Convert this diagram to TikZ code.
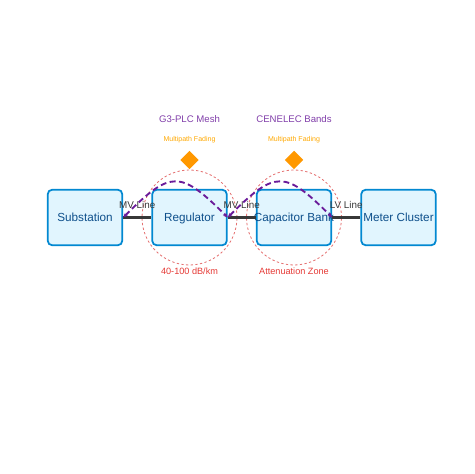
\documentclass[tikz,border=0pt]{standalone}
\usepackage{fontspec}
\setmainfont{Liberation Sans}
\usetikzlibrary{positioning,shapes.geometric,arrows.meta}

\definecolor{boxblue}{HTML}{0288D1}
\definecolor{boxfill}{HTML}{E1F5FE}
\definecolor{boxtext}{HTML}{0D4F8B}
\definecolor{wiregray}{HTML}{383838}
\definecolor{plcpurple}{HTML}{6A1B9A}
\definecolor{zonered}{HTML}{E57373}
\definecolor{zonetext}{HTML}{E53935}
\definecolor{fadeorange}{HTML}{FF9800}

\begin{document}
\begin{tikzpicture}[x=0.03cm,y=0.03cm,node distance=3.135cm,
    asset/.style={rectangle,rounded corners=4pt,draw=boxblue,line width=1.5pt,
      fill=boxfill,text=boxtext,font=\fontsize{10}{12}\selectfont,
      minimum width=2.24cm,minimum height=1.67cm,inner xsep=0pt,text depth=0pt},
    wire/.style={draw=wiregray,line width=2.8pt},
    wirelabel/.style={text=wiregray,font=\fontsize{8.4}{10}\selectfont,midway,yshift=0.375cm},
    zone/.style={circle,draw=zonered,line width=0.7pt,dash pattern=on 2pt off 2pt,
      minimum size=2.85cm},
    zonelabel/.style={text=zonetext,font=\fontsize{7.8}{9}\selectfont},
    fading/.style={diamond,fill=fadeorange,inner sep=0pt,minimum size=0.56cm},
    fadelabel/.style={text=fadeorange!85!yellow,font=\fontsize{6}{7}\selectfont},
    plclabel/.style={text=plcpurple!85!white,font=\fontsize{8.2}{10}\selectfont},
    plc/.style={draw=plcpurple,line width=1.6pt,dash pattern=on 5pt off 3pt,
      <->,>={Stealth[length=4pt,width=3.5pt]}}]

  \useasboundingbox (0,0) rectangle (474,474);

  % zones of attenuation
  \node[zone] (z2) at (189.5,256.5) {};
  \node[zone] (z3) at (294,256.5) {};

  \node[asset] (1) at (85,256.5) {Substation};
  \node[asset] (2) [right of=1] {Regulator};
  \node[asset] (3) [right of=2] {\makebox[2cm]{Capacitor Bank}};
  \node[asset] (4) [right of=3] {Meter Cluster};

  \path[wire] (1) -- node[wirelabel] {MV Line} (2);
  \path[wire] (2) -- node[wirelabel] {MV Line} (3);
  \path[wire] (3) -- node[wirelabel] {LV Line} (4);

  \draw[plc] (1.east) to[out=45,in=135,looseness=1.65] (2.east);
  \draw[plc] (2.east) to[out=45,in=135,looseness=1.65] (3.east);

  \node[fading] (d2) [above of=2,node distance=1.725cm] {};
  \node[fading] (d3) [above of=3,node distance=1.725cm] {};
  \node[fadelabel] (f2) [above of=2,node distance=2.325cm] {Multipath Fading};
  \node[fadelabel] (f3) [above of=3,node distance=2.325cm] {Multipath Fading};
  \node[plclabel] (t2) [above of=2,node distance=2.955cm] {G3-PLC Mesh};
  \node[plclabel] (t3) [above of=3,node distance=2.955cm] {CENELEC Bands};

  \node[zonelabel] (a2) [below of=2,node distance=1.605cm] {40-100 dB/km};
  \node[zonelabel] (a3) [below of=3,node distance=1.605cm] {Attenuation Zone};
\end{tikzpicture}
\end{document}
